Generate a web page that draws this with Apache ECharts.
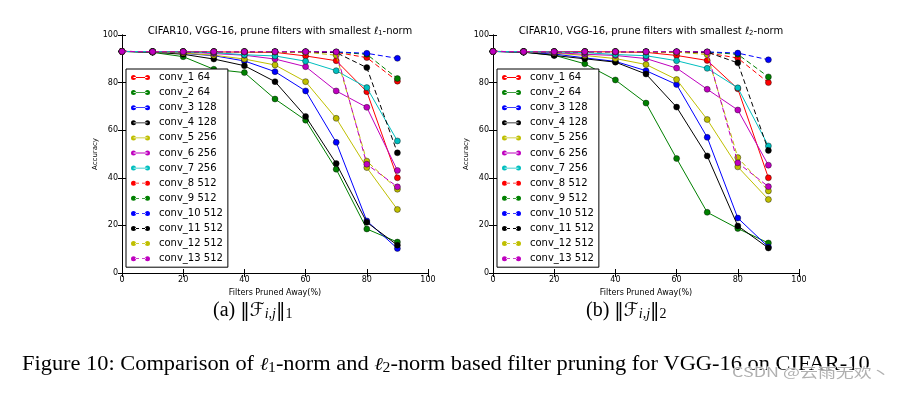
<!DOCTYPE html>
<html><head><meta charset="utf-8">
<script src="https://cdn.jsdelivr.net/npm/echarts@6/dist/echarts.min.js"></script>
<style>html,body{margin:0;padding:0;background:#fff}#c{width:911px;height:395px}</style>
</head><body><div id="c"></div>
<script>
var xs = [0,10,20,30,40,50,60,70,80,90];
var names = ['conv_1 64','conv_2 64','conv_3 128','conv_4 128','conv_5 256','conv_6 256','conv_7 256','conv_8 512','conv_9 512','conv_10 512','conv_11 512','conv_12 512','conv_13 512'];
// l1-norm panel
var l1_conv1  = [93.1,93.0,93.0,92.9,92.8,92.7,91.2,89.2,76.2,40.0];
var l1_conv2  = [93.1,92.7,90.9,85.6,84.2,73.1,64.2,43.6,18.5,13.0];
var l1_conv3  = [93.1,92.9,92.3,91.3,89.1,84.6,76.5,54.9,21.9,10.3];
var l1_conv4  = [93.1,92.8,91.9,89.9,87.1,80.4,65.8,46.0,21.3,11.7];
var l1_conv5  = [93.1,93.0,92.4,91.5,89.9,87.4,80.4,65.0,44.3,26.7];
var l1_conv6  = [93.1,93.0,92.9,92.2,91.5,89.9,86.7,76.5,69.6,43.1];
var l1_conv7  = [93.1,93.0,92.9,92.6,91.7,91.2,89.0,85.0,77.9,55.5];
var l1_conv8  = [93.1,93.0,93.0,93.0,93.0,92.9,92.9,92.7,90.5,80.6];
var l1_conv9  = [93.1,93.0,93.0,93.0,93.0,93.0,92.9,92.8,91.9,81.7];
var l1_conv10 = [93.1,93.0,93.0,93.0,93.0,93.0,93.0,92.9,92.3,90.2];
var l1_conv11 = [93.1,93.0,93.0,93.0,93.0,92.9,92.9,92.6,86.3,50.5];
var l1_conv12 = [93.1,93.0,93.0,93.0,93.0,92.9,92.8,91.5,47.0,35.2];
var l1_conv13 = [93.1,93.0,93.0,93.0,93.0,93.0,93.0,92.9,45.7,36.2];
// l2-norm panel
var l2_conv1  = [93.1,93.0,93.0,93.0,92.9,92.7,91.4,89.3,77.4,40.0];
var l2_conv2  = [93.1,92.8,91.5,87.9,81.1,71.4,48.1,25.5,18.7,12.6];
var l2_conv3  = [93.1,92.8,92.0,90.4,88.9,85.0,79.2,57.0,23.1,10.9];
var l2_conv4  = [93.1,92.8,91.4,90.0,88.6,83.6,69.7,49.2,19.8,10.5];
var l2_conv5  = [93.1,93.0,92.4,91.4,90.1,87.6,81.3,64.5,44.6,30.9];
var l2_conv6  = [93.1,93.0,92.6,91.9,91.4,90.1,86.1,77.2,68.5,45.3];
var l2_conv7  = [93.1,93.0,92.9,92.6,91.8,91.3,89.2,86.0,77.8,53.4];
var l2_conv8  = [93.1,93.0,93.0,93.0,93.0,92.9,92.8,92.5,90.3,80.0];
var l2_conv9  = [93.1,93.0,93.0,93.0,93.0,93.0,92.9,92.8,91.9,82.4];
var l2_conv10 = [93.1,93.0,93.0,93.0,93.0,93.0,93.0,92.9,92.4,89.6];
var l2_conv11 = [93.1,93.0,93.0,93.0,93.0,92.9,92.9,92.8,88.3,51.5];
var l2_conv12 = [93.1,93.0,93.0,93.0,93.0,92.9,92.8,91.8,48.5,34.5];
var l2_conv13 = [93.1,93.0,93.0,93.0,93.0,93.0,93.0,92.9,46.3,36.3];
var xTicks = [0,20,40,60,80,100];
var yTicks = [0,20,40,60,80,100];

var L1 = [l1_conv1,l1_conv2,l1_conv3,l1_conv4,l1_conv5,l1_conv6,l1_conv7,l1_conv8,l1_conv9,l1_conv10,l1_conv11,l1_conv12,l1_conv13];
var L2 = [l2_conv1,l2_conv2,l2_conv3,l2_conv4,l2_conv5,l2_conv6,l2_conv7,l2_conv8,l2_conv9,l2_conv10,l2_conv11,l2_conv12,l2_conv13];
var colors = ['#ff0000','#008000','#0000ff','#000000','#bfbf00','#bf00bf','#00bfbf','#ff0000','#008000','#0000ff','#000000','#bfbf00','#bf00bf'];
var FONT = 'DejaVu Sans';
var solidIcon = 'path://M2.5,2.1H16.5V2.9H2.5Z M0,2.5a2.5,2.5 0 1,0 5,0a2.5,2.5 0 1,0 -5,0Z M14,2.5a2.5,2.5 0 1,0 5,0a2.5,2.5 0 1,0 -5,0Z';
var dashIcon = 'path://M4,2.1H8V2.9H4Z M11,2.1H15V2.9H11Z M0,2.5a2.5,2.5 0 1,0 5,0a2.5,2.5 0 1,0 -5,0Z M14,2.5a2.5,2.5 0 1,0 5,0a2.5,2.5 0 1,0 -5,0Z';

var grids = [{left:122, top:35, width:306, height:238},{left:493, top:35, width:306, height:238}];
function pair(a){return xs.map(function(x,i){return [x,a[i]];});}
var series = [];
[L1,L2].forEach(function(P,g){
  P.forEach(function(arr,k){
    series.push({
      type:'line', name:names[k], xAxisIndex:g*2, yAxisIndex:g*2,
      data:pair(arr), symbol:'circle', symbolSize:6, showSymbol:true,
      color:colors[k],
      lineStyle:{width:1, color:colors[k], type:k>=7?[5,3]:'solid'},
      itemStyle:{color:colors[k], borderColor:'#000', borderWidth:0.4},
      emphasis:{disabled:true}, animation:false, z:2+k
    });
  });
});
var xAxes=[], yAxes=[];
[0,1].forEach(function(g){
  xAxes.push({type:'value', gridIndex:g, min:0, max:100, interval:20, position:'bottom',
    name:'Filters Pruned Away(%)', nameLocation:'middle', nameGap:14,
    nameTextStyle:{fontFamily:FONT,fontSize:8,color:'#000'},
    axisLine:{lineStyle:{color:'#000',width:1}}, axisTick:{inside:true,length:4,lineStyle:{color:'#000'}},
    axisLabel:{fontFamily:FONT,fontSize:8,color:'#000',margin:3}, splitLine:{show:false}});
  xAxes.push({type:'value', gridIndex:g, min:0, max:100, interval:20, position:'top',
    axisLine:{lineStyle:{color:'#000',width:1}}, axisTick:{inside:true,length:4,lineStyle:{color:'#000'}},
    axisLabel:{show:false}, splitLine:{show:false}});
  yAxes.push({type:'value', gridIndex:g, min:0, max:100, interval:20, position:'left',
    name:'Accuracy', nameLocation:'middle', nameGap:21, nameRotate:90,
    nameTextStyle:{fontFamily:FONT,fontSize:7,color:'#000'},
    axisLine:{show:true,lineStyle:{color:'#000',width:1}}, axisTick:{show:true,inside:true,length:4,lineStyle:{color:'#000'}},
    axisLabel:{fontFamily:FONT,fontSize:8,color:'#000',margin:4}, splitLine:{show:false}});
  yAxes.push({type:'value', gridIndex:g, min:0, max:100, interval:20, position:'right',
    axisLine:{show:true,lineStyle:{color:'#000',width:1}}, axisTick:{show:true,inside:true,length:4,lineStyle:{color:'#000'}},
    axisLabel:{show:false}, splitLine:{show:false}});
});
function legend(left){
  return {orient:'vertical', left:left, top:69, padding:[3,5,3,5], itemGap:4.1,
    itemWidth:19, itemHeight:5, borderColor:'#000', borderWidth:1, backgroundColor:'#fff',
    itemStyle:{borderWidth:0},
    textStyle:{fontFamily:FONT,fontSize:10,lineHeight:11,color:'#000',padding:[0,0,0,4]},
    data:names.map(function(n,k){return {name:n, icon:k>=7?dashIcon:solidIcon, itemStyle:{color:colors[k],borderWidth:0}};}),
    selectedMode:false, z:10};
}
var titleRich = {s:{fontFamily:FONT,fontSize:7,color:'#000',verticalAlign:'bottom',lineHeight:4}};
var capRich = {
  n:{fontFamily:'Liberation Serif',fontSize:20,lineHeight:20,color:'#000'},
  b:{fontFamily:'DejaVu Serif',fontSize:19,lineHeight:20,color:'#000'},
  f:{fontFamily:'DejaVu Sans',fontSize:19,lineHeight:20,fontStyle:'italic',color:'#000'},
  s:{fontFamily:'Liberation Serif',fontSize:14,fontStyle:'italic',color:'#000',verticalAlign:'bottom',lineHeight:4},
  r:{fontFamily:'Liberation Serif',fontSize:14,color:'#000',verticalAlign:'bottom',lineHeight:4}
};
var figRich = {
  n:{fontFamily:'Liberation Serif',fontSize:20,lineHeight:20,color:'#000'},
  l:{fontFamily:'DejaVu Serif',fontSize:18,lineHeight:20,fontStyle:'italic',color:'#000'},
  r:{fontFamily:'Liberation Serif',fontSize:14,color:'#000',verticalAlign:'bottom',lineHeight:3}
};
var chart = echarts.init(document.getElementById('c'));
chart.setOption({
  backgroundColor:'#fff',
  animation:false,
  title:[
    {text:'CIFAR10, VGG-16, prune filters with smallest ℓ{s|1}-norm', left:275, top:21, textAlign:'center',
     textStyle:{fontFamily:FONT,fontSize:10,lineHeight:11,fontWeight:'normal',color:'#000',rich:titleRich}},
    {text:'CIFAR10, VGG-16, prune filters with smallest ℓ{s|2}-norm', left:646, top:21, textAlign:'center',
     textStyle:{fontFamily:FONT,fontSize:10,lineHeight:11,fontWeight:'normal',color:'#000',rich:titleRich}}
  ],
  grid:grids, xAxis:xAxes, yAxis:yAxes, series:series,
  legend:[legend(126), legend(497)],
  graphic:[
    {type:'text', x:213, y:301, scaleX:1.0, style:{text:'{n|(a) }{b|‖}{f|ℱ}{s|i,j}{b|‖}{r|1}', rich:capRich}},
    {type:'text', x:586, y:301, scaleX:1.0, style:{text:'{n|(b) }{b|‖}{f|ℱ}{s|i,j}{b|‖}{r|2}', rich:capRich}},
    {type:'text', x:22, y:355, scaleX:1.12, style:{text:'{n|Figure 10: Comparison of }{l|ℓ}{r|1}{n|-norm and }{l|ℓ}{r|2}{n|-norm based filter pruning for VGG-16 on CIFAR-10}', rich:figRich}},
    {type:'text', x:732, y:366, scaleX:1.38, z:20, style:{text:'CSDN @云雨无欢丶', fontFamily:'Noto Sans CJK SC', fontSize:13, fill:'#b0b0b0', stroke:'#fff', lineWidth:1}}
  ]
});
</script></body></html>
